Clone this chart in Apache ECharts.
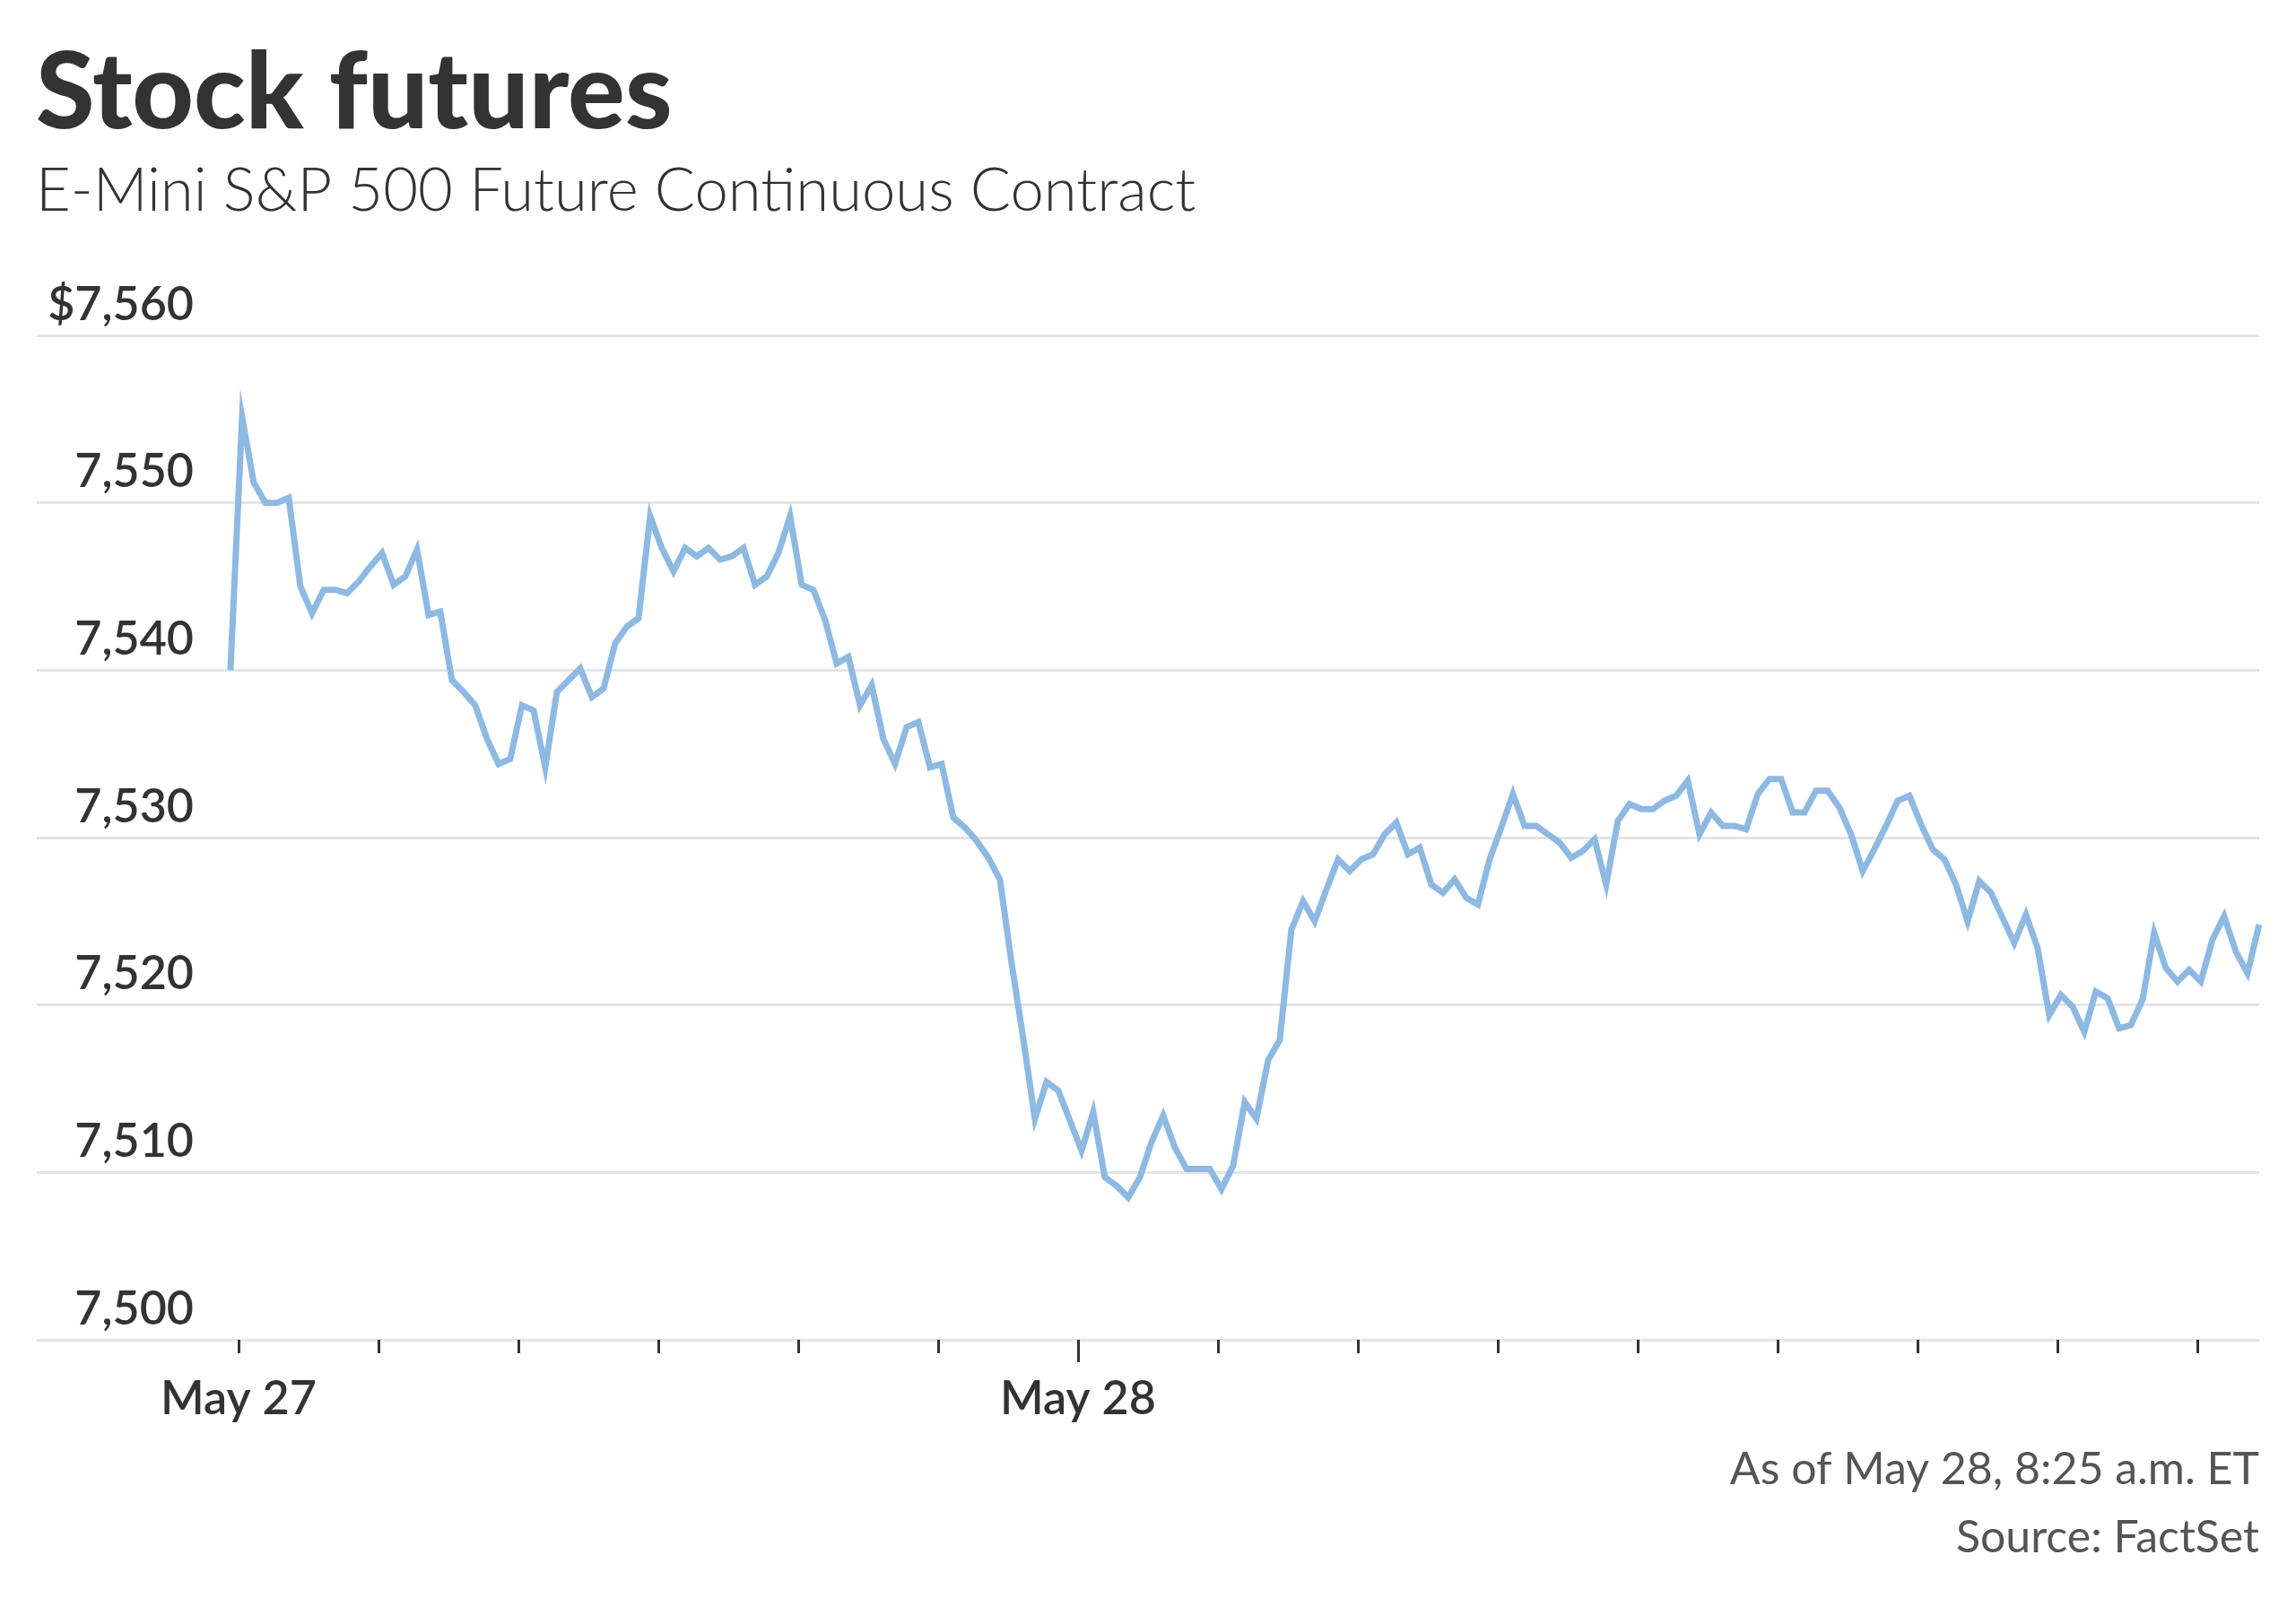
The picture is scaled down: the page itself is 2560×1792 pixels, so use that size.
<!DOCTYPE html>
<html>
<head>
<meta charset="utf-8">
<title>Stock futures</title>
<script src="https://cdn.jsdelivr.net/npm/echarts@6/dist/echarts.min.js"></script>
<style>
    html, body { margin: 0; padding: 0; background: #fff; }
    #chart { width: 2560px; height: 1792px; }
</style>
</head>
<body>
<div id="chart"></div>
<script>
// E-Mini S&P 500, one price every 20 minutes
const prices = [
    7540.0, 7555.1, 7551.2, 7550.0, 7550.0, 7550.3, 7545.0, 7543.4, 7544.8, 7544.8,
    7544.6, 7545.3, 7546.2, 7547.0, 7545.1, 7545.6, 7547.2, 7543.3, 7543.5, 7539.4,
    7538.7, 7537.9, 7535.9, 7534.4, 7534.7, 7537.9, 7537.6, 7534.2, 7538.7, 7539.4,
    7540.1, 7538.4, 7538.9, 7541.6, 7542.6, 7543.1, 7549.2, 7547.3, 7545.9, 7547.3,
    7546.8, 7547.3, 7546.6, 7546.8, 7547.3, 7545.1, 7545.6, 7547.0, 7549.2, 7545.1,
    7544.8, 7543.0, 7540.4, 7540.8, 7537.9, 7539.1, 7535.9, 7534.4, 7536.6, 7536.9,
    7534.2, 7534.4, 7531.2, 7530.6, 7529.8, 7528.8, 7527.5, 7522.5, 7518.0, 7513.2,
    7515.4, 7514.9, 7513.1, 7511.3, 7513.6, 7509.7, 7509.2, 7508.5, 7509.7, 7511.8,
    7513.4, 7511.5, 7510.2, 7510.2, 7510.2, 7509.0, 7510.4, 7514.2, 7513.2, 7516.7,
    7517.9, 7524.5, 7526.2, 7525.0, 7526.9, 7528.7, 7528.0, 7528.7, 7529.0, 7530.2,
    7530.9, 7529.0, 7529.4, 7527.2, 7526.7, 7527.5, 7526.4, 7526.0, 7528.7, 7530.6,
    7532.6, 7530.7, 7530.7, 7530.2, 7529.7, 7528.8, 7529.2, 7529.9, 7527.2, 7531.0,
    7532.0, 7531.7, 7531.7, 7532.2, 7532.5, 7533.4, 7530.2, 7531.5, 7530.7, 7530.7,
    7530.5, 7532.6, 7533.5, 7533.5, 7531.5, 7531.5, 7532.8, 7532.8, 7531.8, 7530.2,
    7528.0, 7529.3, 7530.7, 7532.2, 7532.5, 7530.8, 7529.3, 7528.7, 7527.2, 7525.0,
    7527.4, 7526.7, 7525.2, 7523.7, 7525.4, 7523.4, 7519.4, 7520.6, 7519.9, 7518.4,
    7520.8, 7520.4, 7518.6, 7518.8, 7520.3, 7524.3, 7522.2, 7521.4, 7522.1, 7521.4,
    7523.9, 7525.3, 7523.2, 7521.9, 7524.8
];
const firstMinute = -14;   // minutes from May 27 00:00
const stepMinutes = 20;

const tickHours = [0, 4, 8, 12, 16, 20, 24, 28, 32, 36, 40, 44, 48, 52, 56];
const dayHours = [0, 24];
const dayLabels = ['May 27', 'May 28'];
const yTicks = [7500, 7510, 7520, 7530, 7540, 7550, 7560];

let seriesData = []
for (let i = 0; i < prices.length; i++) {
    seriesData.push([(firstMinute + i * stepMinutes) / 60, prices[i]])
}

let myChart = echarts.init(document.getElementById('chart'));
const font = 'Lato, "Noto Sans", sans-serif';
let option = {
    animation: false,
    title: [
        {
            text: 'Stock futures',
            left: 40, top: 45, padding: 0,
            textStyle: { fontFamily: font, fontWeight: 900, fontSize: 119, color: '#333333' }
        },
        {
            text: 'E-Mini S&P 500 Future Continuous Contract',
            left: 40, top: 180, padding: 0,
            textStyle: { fontFamily: font, fontWeight: 300, fontSize: 67, color: '#333333' }
        },
        {
            text: 'As of May 28, 8:25 a.m. ET',
            right: 41, top: 1614, padding: 0,
            textStyle: { fontFamily: font, fontWeight: 'normal', fontSize: 50, color: '#555555' }
        },
        {
            text: 'Source: FactSet',
            right: 41, top: 1690, padding: 0,
            textStyle: { fontFamily: font, fontWeight: 'normal', fontSize: 50, color: '#555555' }
        }
    ],
    grid: {
        left: 41,
        right: 41,
        top: 374,
        bottom: 298,
        containLabel: false
    },
    xAxis: [
        {
            type: 'value',
            position: 'bottom',
            min: -5.77,
            max: 57.77,
            axisLine: { show: false },
            splitLine: { show: false },
            axisTick: {
                show: true,
                customValues: tickHours,
                length: 15,
                lineStyle: { color: '#333333', width: 3 }
            },
            axisLabel: {
                show: true,
                customValues: dayHours,
                margin: 40,
                fontFamily: font,
                fontWeight: 600,
                fontSize: 52,
                color: '#333333',
                formatter: function (v) {
                    let k = dayHours.indexOf(v)
                    return k >= 0 ? dayLabels[k] : ''
                }
            }
        },
        {
            type: 'value',
            position: 'bottom',
            min: -5.77,
            max: 57.77,
            axisLine: { show: false },
            splitLine: { show: false },
            axisTick: {
                show: true,
                customValues: [24],
                length: 25,
                lineStyle: { color: '#333333', width: 3 }
            },
            axisLabel: { show: false }
        }
    ],
    yAxis: {
        type: 'value',
        min: 7500,
        max: 7560,
        interval: 10,
        axisLine: { show: false },
        axisTick: { show: false },
        splitLine: { show: true, lineStyle: { color: '#e5e5e5', width: 3 } },
        axisLabel: {
            inside: true,
            margin: 175,
            align: 'right',
            verticalAlign: 'bottom',
            padding: [0, 0, 8, 0],
            fontFamily: font,
            fontWeight: 600,
            fontSize: 52,
            color: '#333333',
            formatter: function (v) {
                let s = v.toLocaleString('en-US')
                return v === yTicks[yTicks.length - 1] ? '$' + s : s
            }
        }
    },
    series: [
        {
            type: 'line',
            xAxisIndex: 0,
            data: seriesData,
            showSymbol: false,
            smooth: false,
            lineStyle: { color: '#8db9e3', width: 7, join: 'miter' },
            itemStyle: { color: '#8db9e3' }
        }
    ]
};
myChart.setOption(option, true);
</script>
</body>
</html>
